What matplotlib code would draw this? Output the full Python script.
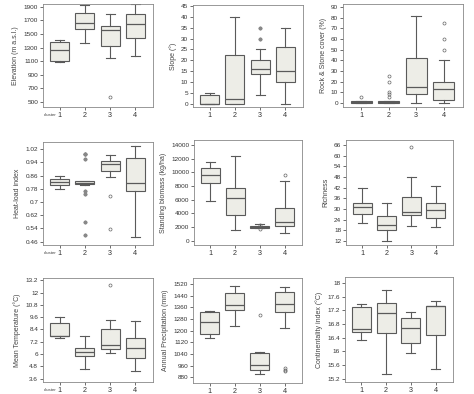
import matplotlib
matplotlib.use("Agg")
import matplotlib.pyplot as plt
import matplotlib.transforms as mtransforms

plt.rcParams["font.family"] = ["Liberation Sans", "DejaVu Sans"]

clusters = ["1", "2", "3", "4"]

# five-number summaries per cluster: (whisker low, q1, median, q3, whisker high)
elevation = [(1090, 1100, 1270, 1380, 1410), (1370, 1570, 1660, 1810, 1930),
             (1140, 1320, 1560, 1610, 1790), (1170, 1440, 1640, 1800, 1940)]
elevation_out = [[], [], [580], []]

slope = [(0, 0, 0, 4, 5), (0, 0, 2, 22.5, 40), (4, 13.5, 16, 20, 25), (0, 10, 15, 26, 35)]
slope_out = [[], [], [30, 35], []]

rock = [(0, 0, 1, 2, 2), (0, 0, 1, 2, 2), (0, 8, 15, 42, 82), (0, 3, 13, 20, 40)]
rock_out = [[5], [5, 8, 10, 20, 25], [], [50, 60, 75]]

heatload = [(0.782, 0.806, 0.822, 0.839, 0.855), (0.806, 0.81, 0.818, 0.827, 0.83),
            (0.849, 0.889, 0.931, 0.951, 0.986), (0.49, 0.768, 0.818, 0.966, 1.04)]
heatload_out = [[], [0.994, 0.99, 0.964, 0.766, 0.746, 0.577, 0.498], [0.738, 0.534], []]

biomass = [(5850, 8390, 9560, 10680, 11460), (1560, 3700, 6290, 7660, 12440),
           (1800, 1880, 2000, 2120, 2500), (1120, 2200, 2680, 4780, 8730)]
biomass_out = [[], [], [1750, 2300], [9600]]

richness = [(22, 27.2, 30.9, 33.4, 41.8), (12, 18.4, 21.2, 25.9, 33.2),
            (20.3, 26.7, 28.1, 36.6, 48), (20, 25.1, 29.4, 33.2, 42.9)]
richness_out = [[], [], [65], []]

temperature = [(7.59, 7.72, 7.78, 9.0, 9.59), (4.54, 5.79, 6.18, 6.61, 7.79),
               (6.15, 6.48, 6.84, 8.41, 9.33), (4.31, 5.66, 6.58, 7.56, 9.23)]
temperature_out = [[], [], [12.77], []]

precipitation = [(1150, 1179, 1262, 1326, 1333), (1234, 1344, 1376, 1458, 1509),
                 (903, 933, 967, 1045, 1054), (1221, 1326, 1383, 1463, 1499)]
precipitation_out = [[], [], [1310], [921, 933, 945]]

continentality = [(16.33, 16.58, 16.66, 17.3, 17.4), (15.32, 16.55, 17.13, 17.41, 17.81),
                  (15.95, 16.25, 16.69, 16.98, 17.15), (15.48, 16.49, 17.33, 17.33, 17.48)]
continentality_out = [[], [], [], []]

panels = [
    ("Elevation (m a.s.l.)", elevation, elevation_out,
     [500, 700, 900, 1100, 1300, 1500, 1700, 1900], (427, 1940)),
    ("Slope (°)", slope, slope_out, list(range(0, 50, 5)), (-1.5, 45.5)),
    ("Rock & Stone cover (%)", rock, rock_out, list(range(0, 100, 10)), (-4, 93)),
    ("Heat-load index", heatload, heatload_out,
     [0.46, 0.54, 0.62, 0.7, 0.78, 0.86, 0.94, 1.02], (0.44, 1.064)),
    ("Standing biomass (kg/ha)", biomass, biomass_out,
     list(range(0, 16000, 2000)), (-630, 14730)),
    ("Richness", richness, richness_out, list(range(12, 72, 6)), (9.75, 68.8)),
    ("Mean Temperature (°C)", temperature, temperature_out,
     [3.6, 4.8, 6, 7.2, 8.4, 9.6, 10.8, 12, 13.2], (3.27, 13.43)),
    ("Annual Precipitation (mm)", precipitation, precipitation_out,
     list(range(880, 1600, 80)), (841, 1561)),
    ("Continentality index (°C)", continentality, continentality_out,
     [15.2, 15.6, 16, 16.4, 16.8, 17.2, 17.6, 18], (15.1, 18.18)),
]

# axes boxes in pixels: left, top, right, bottom
boxes_px = [
    (43, 4, 153, 107), (193, 5, 303, 107), (343, 4, 463, 107),
    (43, 142, 153, 245), (194, 140, 302, 245), (346, 140, 453, 245),
    (43, 278, 153, 382), (193, 278, 302, 383), (345, 277, 453, 382),
]

W, H = 474, 394
fig = plt.figure(figsize=(W / 100, H / 100), dpi=100)
fig.patch.set_facecolor("white")

edge = "#5a5a5a"
face = "#ededE7"
filled = {(1, 2), (3, 1)}  # panels/clusters drawn with filled outlier markers

for i, ((label, stats, outs, ticks, ylim), (l, t, r, b)) in enumerate(zip(panels, boxes_px)):
    ax = fig.add_axes([l / W, 1 - b / H, (r - l) / W, (b - t) / H])
    bxp_stats = []
    for (lo, q1, med, q3, hi), fl in zip(stats, outs):
        bxp_stats.append(dict(whislo=lo, q1=q1, med=med, q3=q3, whishi=hi, fliers=fl))
    ax.bxp(bxp_stats, positions=[1, 2, 3, 4], widths=0.76, capwidths=0.36,
           patch_artist=True,
           boxprops=dict(facecolor=face, edgecolor=edge, linewidth=0.8),
           whiskerprops=dict(color=edge, linewidth=0.8),
           capprops=dict(color=edge, linewidth=0.8),
           medianprops=dict(color=edge, linewidth=0.9),
           flierprops=dict(marker="o", markersize=2.2, markerfacecolor="none",
                           markeredgecolor="#666666", markeredgewidth=0.5))
    for j, fl in enumerate(outs):
        if (i, j) in filled and fl:
            ax.plot([j + 1] * len(fl), fl, "o", ms=2.2, mfc="#888888", mec="#888888",
                    mew=0.4, zorder=4)
    ax.set_xlim(0.34, 4.7)
    ax.set_ylim(*ylim)
    ax.set_yticks(ticks)
    ax.set_yticklabels([f"{v:g}" for v in ticks])
    ax.set_xticks([1, 2, 3, 4])
    ax.set_xticklabels(clusters)
    ax.tick_params(axis="both", labelsize=4.6, colors="#333333", length=2, width=0.5, pad=1.5)
    ax.tick_params(axis="x", labelsize=5.2)
    for s in ax.spines.values():
        s.set_color("#888888")
        s.set_linewidth(0.6)
    ax.set_ylabel(label, fontsize=5, color="#444444", labelpad=3)
    if i % 3 == 0:
        trans = mtransforms.blended_transform_factory(ax.transData, ax.transAxes)
        trans = trans + mtransforms.ScaledTranslation(0, -5.5 / 72, fig.dpi_scale_trans)
        ax.text(0.62, 0, "cluster", transform=trans, fontsize=3.2,
                color="#444444", ha="center", va="center")

fig.savefig("out.png", dpi=100, facecolor="white")
